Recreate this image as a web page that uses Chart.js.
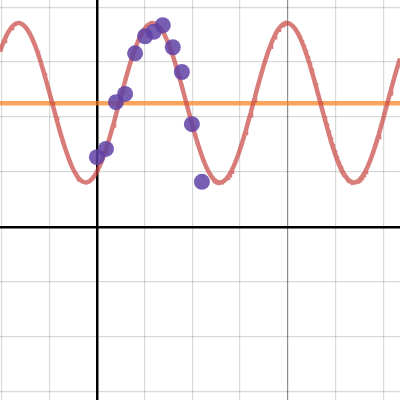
<!DOCTYPE html>
<html><head><script src="https://cdn.jsdelivr.net/npm/chart.js@4"></script>
<style>html,body{margin:0;padding:0;background:#fff}#w{width:400px;height:400px}</style></head>
<body><div id="w"><canvas id="c"></canvas></div>
<script>
const pointX = [0, 0.19, 0.40, 0.59, 0.80, 1.01, 1.19, 1.38, 1.59, 1.78, 1.99, 2.20];
const pointY = [1.27, 1.42, 2.27, 2.42, 3.16, 3.47, 3.55, 3.67, 3.27, 2.82, 1.87, 0.82];
const sineAmp = 1.45, sineMid = 2.26, sinePeriod = 2.81, sinePeakX = 1.17;
const lineY = 2.25;
const xMin = -2.03, xMax = 6.35, yMin = -3.15, yMax = 4.13;

const curve = [];
for (let i = 0; i <= 400; i++) {
  const x = xMin + (xMax - xMin) * i / 400;
  curve.push({x, y: sineMid + sineAmp * Math.cos(2 * Math.PI * (x - sinePeakX) / sinePeriod)});
}
const pts = pointX.map((x, i) => ({x, y: pointY[i]}));
function intTicks(axis) {
  const t = [];
  for (let v = Math.ceil(axis.min); v <= Math.floor(axis.max); v++) t.push({value: v});
  axis.ticks = t;
}
function gridColor(ctx, major) {
  const v = ctx.tick && ctx.tick.value;
  if (v === 0) return '#000';
  if (v === major) return 'rgba(0,0,0,0.45)';
  return 'rgba(0,0,0,0.15)';
}
new Chart(document.getElementById('c'), {
  type: 'scatter',
  data: {datasets: [
    {data: pts, backgroundColor: 'rgba(96,66,166,0.85)', borderWidth: 0, pointRadius: 8, order: 0},
    {type: 'line', data: curve, borderColor: 'rgba(199,68,64,0.7)', borderWidth: 4.5, pointRadius: 0, tension: 0, order: 1},
    {type: 'line', data: [{x: xMin, y: lineY}, {x: xMax, y: lineY}], borderColor: 'rgba(250,126,25,0.7)', borderWidth: 4.5, pointRadius: 0, order: 2}
  ]},
  options: {
    responsive: true, maintainAspectRatio: false, animation: false,
    layout: {padding: 0, autoPadding: false},
    plugins: {legend: {display: false}, tooltip: {enabled: false}},
    scales: {
      x: {type: 'linear', min: xMin, max: xMax, afterBuildTicks: intTicks,
        afterFit: s => { s.height = 0; s.paddingLeft = 0; s.paddingRight = 0; },
        ticks: {display: false, padding: 0}, border: {display: false},
        grid: {color: c => gridColor(c, 4), lineWidth: c => c.tick && c.tick.value === 0 ? 2.5 : 1.2, drawTicks: false, tickLength: 0}},
      y: {type: 'linear', min: yMin, max: yMax, afterBuildTicks: intTicks,
        afterFit: s => { s.width = 0; s.paddingTop = 0; s.paddingBottom = 0; },
        ticks: {display: false, padding: 0}, border: {display: false},
        grid: {color: c => gridColor(c, 999), lineWidth: c => c.tick && c.tick.value === 0 ? 2.5 : 1.2, drawTicks: false, tickLength: 0}}
    }
  }
});
</script></body></html>
